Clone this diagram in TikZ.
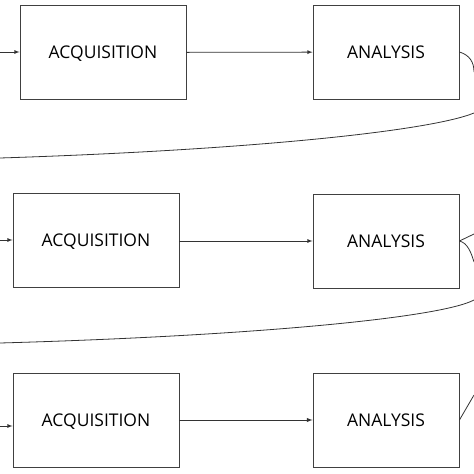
\documentclass[tikz,border=0pt]{standalone}
\usepackage{fontspec}
\setmainfont{Open Sans}
\usetikzlibrary{arrows,positioning,calc}

\begin{document}
\begin{tikzpicture}[>=latex,x=1pt,y=1pt,
  block/.style={draw=black!75,line width=0.9pt,fill=white,minimum width=166pt,minimum height=94pt,text depth=0pt,font=\fontsize{17.5}{19}\selectfont},
  ablock/.style={block,minimum width=146pt},
  wire/.style={draw=black!80,line width=0.8pt}]
  \useasboundingbox (0,0) rectangle (474,-474);
  \node[block] (acq1) at (103,-52.5) {ACQUISITION};
  \node[ablock] (ana1) at (386,-52) {ANALYSIS};
  \node[block] (acq2) at (96,-240) {ACQUISITION};
  \node[ablock] (ana2) at (386,-241) {ANALYSIS};
  \node[block] (acq3) at (96,-420.5) {ACQUISITION};
  \node[ablock] (ana3) at (386,-420) {ANALYSIS};
  % loose ends at the picture border
  \coordinate (in1) at (0,-52);
  \coordinate (in2) at (0,-240);
  \coordinate (in3) at (0,-426);
  \coordinate (out1) at (474,-72);
  \coordinate (out2a) at (474,-234);
  \coordinate (out2b) at (474,-262);
  \coordinate (out3) at (474,-395);
  \coordinate (back1a) at (474,-113);
  \coordinate (back1b) at (0,-158);
  \coordinate (back2a) at (474,-300);
  \coordinate (back2b) at (0,-343);
  \draw[wire,->] (in1) -- (acq1.west|-in1);
  \draw[wire,->] (acq1) -- (ana1);
  \draw[wire,->] (in2) -- (acq2.west|-in2);
  \draw[wire,->] (acq2.east|-ana2) -- (ana2);
  \draw[wire,->] (in3) -- (acq3.west|-in3);
  \draw[wire,->,line width=1pt] (acq3.east|-ana3) -- (ana3);
  \draw[wire] (ana1.east) .. controls ($(ana1.east)+(10,-3)$) and ($(out1)+(0,10)$) .. (out1);
  \draw[wire] (back1a) .. controls (430,-131) and (250,-150) .. (back1b);
  \draw[wire] (ana2.east) -- (out2a);
  \draw[wire] (ana2.east) .. controls ($(ana2.east)+(8,-2)$) and ($(out2b)+(-3,10)$) .. (out2b);
  \draw[wire] (back2a) .. controls (440,-318) and (250,-336) .. (back2b);
  \draw[wire] (ana3.east) -- (out3);
\end{tikzpicture}
\end{document}
